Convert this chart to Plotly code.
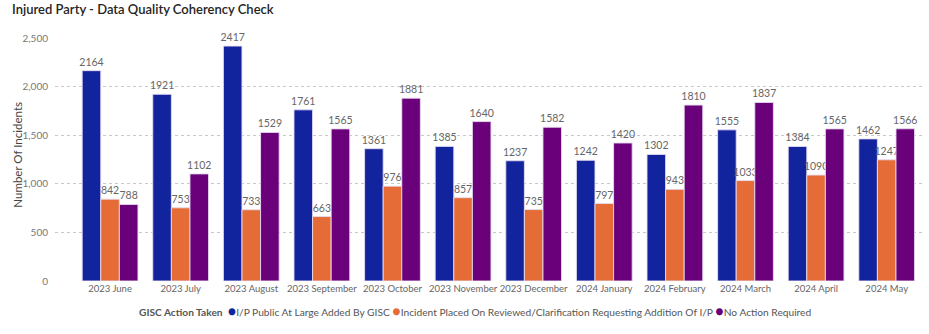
import plotly.graph_objects as go

months = ["2023 June", "2023 July", "2023 August", "2023 September", "2023 October",
          "2023 November", "2023 December", "2024 January", "2024 February",
          "2024 March", "2024 April", "2024 May"]
public_at_large = [2164, 1921, 2417, 1761, 1361, 1385, 1237, 1242, 1302, 1555, 1384, 1462]
placed_on_review = [842, 753, 733, 663, 976, 857, 735, 797, 943, 1033, 1090, 1247]
no_action = [788, 1102, 1529, 1565, 1881, 1640, 1582, 1420, 1810, 1837, 1565, 1566]
y_ticks = [0, 500, 1000, 1500, 2000, 2500]

series = [
    ("I/P Public At Large Added By GISC", public_at_large, "#12239E"),
    ("Incident Placed On Reviewed/Clarification Requesting Addition Of I/P", placed_on_review, "#E66C37"),
    ("No Action Required", no_action, "#6B007B"),
]

FONT = "Lato, Open Sans, sans-serif"
fig = go.Figure()

for name, vals, color in series:
    fig.add_trace(go.Bar(
        x=months, y=vals, name=name, showlegend=False,
        marker=dict(color=color, line=dict(color="rgba(230,220,240,0.9)", width=1)),
        text=[str(v) for v in vals], textposition="outside",
        textfont=dict(size=10.5, color="#666666", family=FONT),
        constraintext="none", cliponaxis=False,
    ))

# legend line: bold title followed by coloured dots and series names
legend_parts = ["<b>GISC Action Taken</b> "]
for name, vals, color in series:
    legend_parts.append(f" <span style='color:{color};font-size:14px'>●</span>{name}")
fig.add_annotation(
    text="".join(legend_parts), xref="paper", yref="paper",
    x=0.484, y=-0.12, xanchor="center", yanchor="middle", showarrow=False,
    font=dict(size=10.2, color="#555555", family=FONT),
)

# y-axis title
fig.add_annotation(
    text="Number Of Incidents", xref="paper", yref="paper",
    x=0, xshift=-37, y=0.52, xanchor="center", yanchor="middle",
    textangle=-90, showarrow=False,
    font=dict(size=11.5, color="#444444", family=FONT),
)

fig.update_layout(
    width=929, height=334,
    margin=dict(l=55, r=7, t=38, b=53),
    paper_bgcolor="white", plot_bgcolor="white",
    font=dict(family=FONT, color="#666666", size=10),
    barmode="group", bargap=0.21, bargroupgap=0,
    showlegend=False,
    title=dict(text="Injured Party - Data Quality Coherency Check",
               x=0.013, xref="container", xanchor="left", y=0.985, yanchor="top",
               font=dict(size=13, color="#252423", family=FONT, weight=600)),
)

fig.update_xaxes(
    type="category", range=[-0.78, 11.5], showgrid=False, showline=False,
    ticks="", tickangle=0, tickfont=dict(size=9.5, color="#666666"),
)
fig.update_yaxes(
    range=[0, 2500], tickvals=y_ticks, tickformat=",", showline=False,
    showgrid=True, gridcolor="#C8C8C8", griddash="dot", gridwidth=1,
    zeroline=False, ticks="", ticklabelstandoff=6,
    tickfont=dict(size=10, color="#777777"),
)

fig.write_html("out.html")
